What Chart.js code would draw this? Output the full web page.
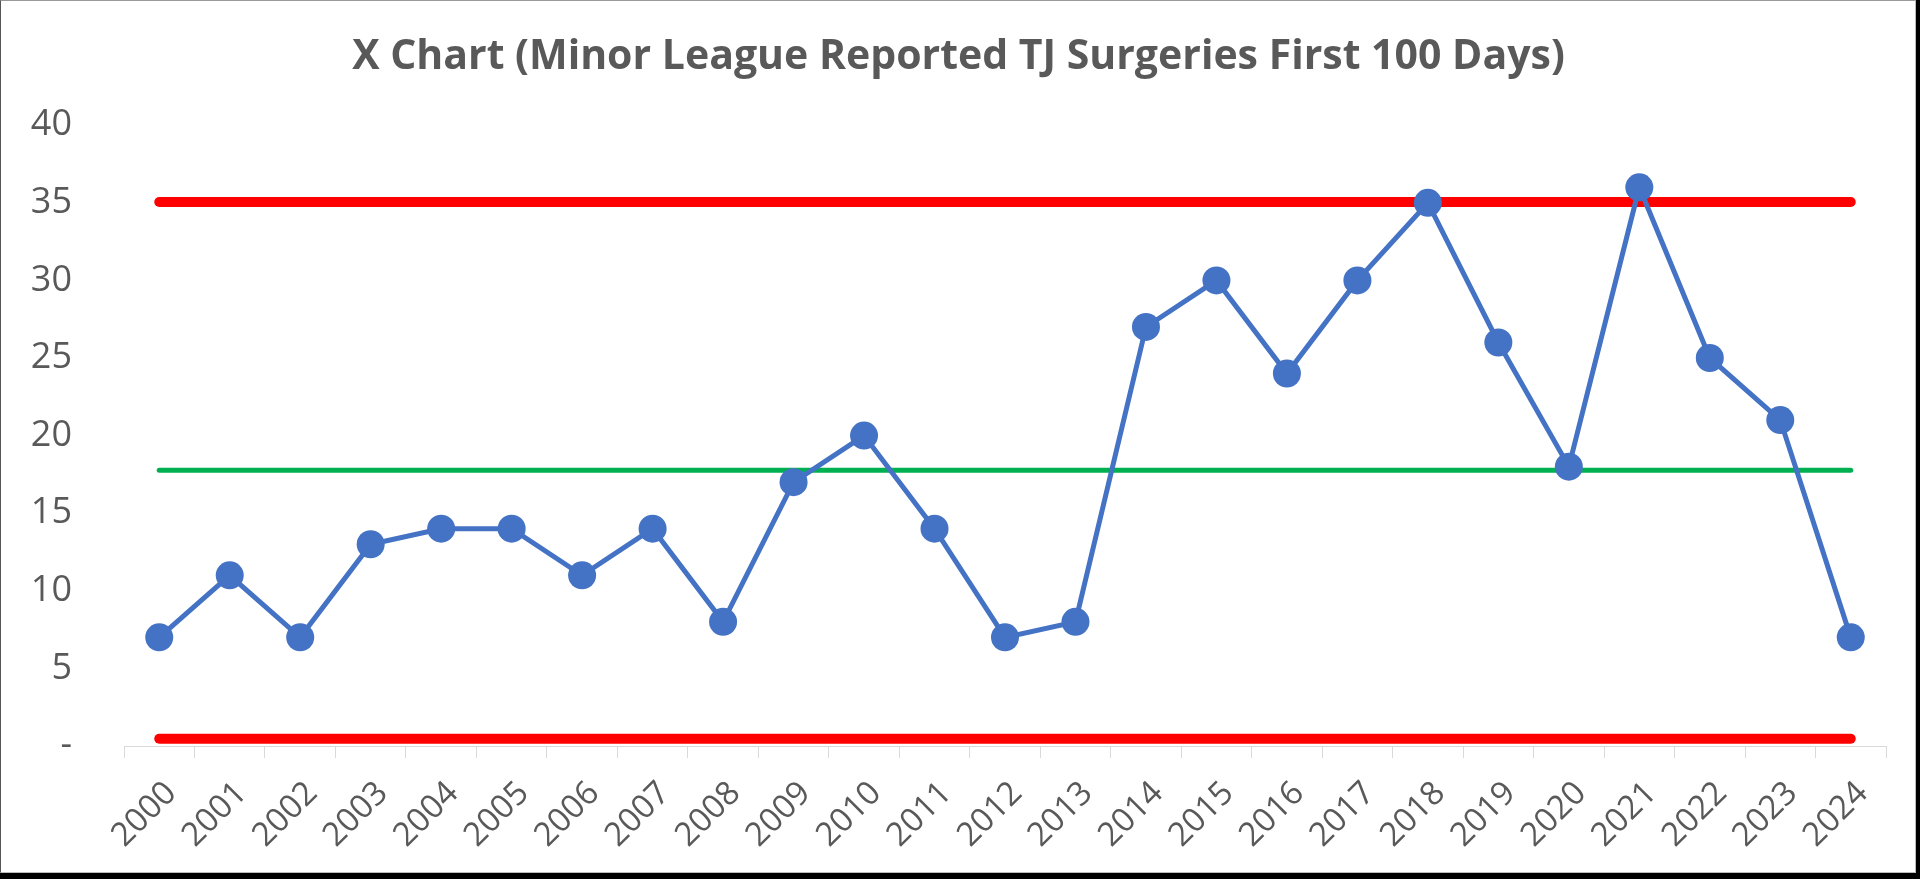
<!DOCTYPE html>
<html>
<head>
<meta charset="utf-8">
<title>X Chart</title>
<script src="https://cdn.jsdelivr.net/npm/chart.js@4.4.1/dist/chart.umd.min.js"></script>
<style>
    html, body {
        margin: 0;
        padding: 0;
        background: #000;
        overflow: hidden;
    }
    .frame {
        position: absolute;
        left: 0;
        top: 0;
        width: 1914px;
        height: 871px;
        background: #fff;
        border-left: 1px solid #555;
        border-top: 1px solid #999;
        border-right: 1px solid #bbb;
        border-bottom: 1px solid #bbb;
    }
    canvas {
        position: absolute;
        left: 0;
        top: 0;
    }
</style>
</head>
<body>
<div class="frame">
    <canvas id="xChart" width="1915" height="873"></canvas>
</div>
<script>
    const years = ["2000", "2001", "2002", "2003", "2004", "2005", "2006", "2007", "2008", "2009",
        "2010", "2011", "2012", "2013", "2014", "2015", "2016", "2017", "2018", "2019",
        "2020", "2021", "2022", "2023", "2024"];
    const surgeries = [7, 11, 7, 13, 14, 14, 11, 14, 8, 17, 20, 14, 7, 8, 27, 30, 24, 30, 35, 26, 18, 36, 25, 21, 7];
    const centerLine = 17.76;
    const upperLimit = 35.05;
    const lowerLimit = 0.47;
    const yTicks = [0, 5, 10, 15, 20, 25, 30, 35, 40];

    const tickColor = '#595959';

    function flatLine(value) {
        return years.map(() => value);
    }

    const ctx = document.getElementById('xChart');
    new Chart(ctx, {
        type: 'line',
        data: {
            labels: years,
            datasets: [{
                label: 'Surgeries',
                data: surgeries,
                borderColor: '#4472C4',
                backgroundColor: '#4472C4',
                borderWidth: 5,
                pointRadius: 14,
                pointBorderWidth: 0,
                pointBackgroundColor: '#4472C4',
                tension: 0,
                order: 0
            },
                {
                    label: 'UCL',
                    data: flatLine(upperLimit),
                    borderColor: '#FF0000',
                    borderWidth: 10,
                    borderCapStyle: 'round',
                    pointRadius: 0,
                    order: 1
                },
                {
                    label: 'LCL',
                    data: flatLine(lowerLimit),
                    borderColor: '#FF0000',
                    borderWidth: 10,
                    borderCapStyle: 'round',
                    pointRadius: 0,
                    order: 1
                },
                {
                    label: 'Average',
                    data: flatLine(centerLine),
                    borderColor: '#00B050',
                    borderWidth: 5,
                    borderCapStyle: 'round',
                    pointRadius: 0,
                    order: 1
                }]
        },
        options: {
            responsive: false,
            animation: false,
            layout: {
                // left/right padding kept equal so the title stays centred on the canvas
                padding: {left: 30, right: 30, top: 0, bottom: 0}
            },
            plugins: {
                legend: {display: false},
                tooltip: {enabled: false},
                title: {
                    display: true,
                    text: 'X Chart (Minor League Reported TJ Surgeries First 100 Days)',
                    color: '#595959',
                    font: {family: "'Open Sans', sans-serif", size: 41, weight: 'bold', lineHeight: 1.2},
                    padding: {top: 32, bottom: 43}
                }
            },
            scales: {
                x: {
                    offset: true,
                    grid: {
                        offset: true,
                        drawOnChartArea: false,
                        drawTicks: true,
                        tickLength: 12,
                        color: '#D9D9D9'
                    },
                    border: {display: true, color: '#D9D9D9', width: 1},
                    ticks: {
                        color: tickColor,
                        font: {family: "'Open Sans', sans-serif", size: 33},
                        minRotation: 45,
                        maxRotation: 45,
                        autoSkip: false,
                        labelOffset: 12,
                        padding: 16
                    },
                    afterFit: function (scale) {
                        scale.height = 128;
                    }
                },
                y: {
                    min: 0,
                    max: 40,
                    afterBuildTicks: function (scale) {
                        scale.ticks = yTicks.map(v => ({value: v}));
                    },
                    grid: {display: false},
                    border: {display: false},
                    ticks: {
                        color: tickColor,
                        font: {family: "'Open Sans', sans-serif", size: 36},
                        padding: 44,
                        callback: function (value) {
                            return value === 0 ? '-' : value;
                        }
                    },
                    afterFit: function (scale) {
                        scale.width = 93;
                    }
                }
            }
        }
    });
</script>
</body>
</html>
